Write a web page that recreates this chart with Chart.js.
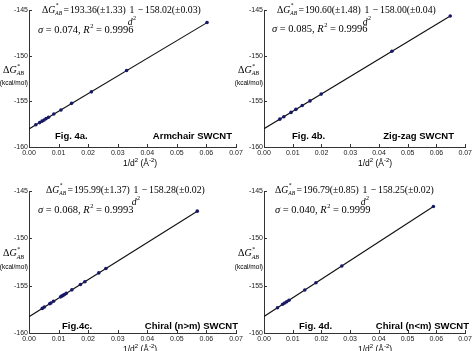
<!DOCTYPE html>
<html>
<head>
<meta charset="utf-8">
<script src="https://cdn.jsdelivr.net/npm/chart.js@4.4.0/dist/chart.umd.min.js"></script>
<style>
body { margin: 0; background: #fff; }
#wrap { position: relative; width: 474px; height: 351px; overflow: hidden; }
#wrap canvas { position: absolute; left: 0; top: 0; }
</style>
</head>
<body>
<div id="wrap">
<canvas id="c1" width="474" height="351"></canvas>
<canvas id="c2" width="474" height="351"></canvas>
<canvas id="c3" width="474" height="351"></canvas>
<canvas id="c4" width="474" height="351"></canvas>
</div>
<script>
// data: x = 1/d^2, y = dG (kcal/mol)
var armX = [0.0023, 0.0036, 0.0044, 0.0051, 0.0058, 0.0066, 0.0084, 0.0108, 0.0144, 0.0211, 0.0330, 0.0602];
var armY = [-157.57, -157.33, -157.17, -157.05, -156.89, -156.75, -156.39, -155.95, -155.22, -153.96, -151.62, -146.37];
var armFitX = [0, 0.0602];
var armFitY = [-158.02, -146.38];

var zigX = [0.0055, 0.0069, 0.0094, 0.0111, 0.0133, 0.0160, 0.0199, 0.0445, 0.0648];
var zigY = [-156.95, -156.68, -156.21, -155.88, -155.46, -154.95, -154.21, -149.52, -145.65];
var zigFitX = [0, 0.0648];
var zigFitY = [-158.00, -145.65];

var chirGtX = [0.0045, 0.0052, 0.0070, 0.0074, 0.0083, 0.0107, 0.0111, 0.0115, 0.0120, 0.0126, 0.0145, 0.0174, 0.0189, 0.0236, 0.0260, 0.0569];
var chirGtY = [-157.40, -157.26, -156.91, -156.83, -156.65, -156.18, -156.10, -156.03, -155.93, -155.81, -155.44, -154.87, -154.58, -153.65, -153.18, -147.13];
var chirGtFitX = [0, 0.0569];
var chirGtFitY = [-158.28, -147.13];

var chirLtX = [0.0047, 0.0065, 0.0072, 0.0079, 0.0087, 0.0142, 0.0181, 0.0271, 0.0590];
var chirLtY = [-157.33, -156.97, -156.83, -156.70, -156.54, -155.46, -154.69, -152.92, -146.64];
var chirLtFitX = [0, 0.0590];
var chirLtFitY = [-158.25, -146.64];

var xTicks = [0, 0.01, 0.02, 0.03, 0.04, 0.05, 0.06, 0.07];
var yTicks = [-160, -155, -150, -145];

var coefText = ['193.36(±1.33)', '190.60(±1.48)', '195.99(±1.37)', '196.79(±0.85)'];
var constText = ['158.02(±0.03)', '158.00(±0.04)', '158.28(±0.02)', '158.25(±0.02)'];
var sigmaText = ['0.074', '0.085', '0.068', '0.040'];
var r2Text = ['0.9996', '0.9996', '0.9993', '0.9999'];
var figLabels = ['Fig. 4a.', 'Fig. 4b.', 'Fig.4c.', 'Fig. 4d.'];
var tubeLabels = ['Armchair SWCNT', 'Zig-zag SWCNT', 'Chiral (n>m) SWCNT', 'Chiral (n<m) SWCNT'];

// where each panel sits on the page
var boxes = [
    { left: 29, top: 10, right: 236, bottom: 147, eqX: 42, eqY: 10, sgX: 38, sgY: 30, figX: 55, tubeR: 232, labY: 136 },
    { left: 264, top: 10, right: 467, bottom: 147, eqX: 277, eqY: 10, sgX: 272, sgY: 29, figX: 292, tubeR: 454, labY: 136 },
    { left: 29, top: 191, right: 236, bottom: 333, eqX: 46, eqY: 190, sgX: 38, sgY: 210, figX: 62, tubeR: 238, labY: 326 },
    { left: 264, top: 191, right: 465, bottom: 333, eqX: 275, eqY: 190, sgX: 275, sgY: 210, figX: 299, tubeR: 469, labY: 326 }
];

var SERIF = '"Liberation Serif", "Times New Roman", serif';
var SANS = '"Liberation Sans", Arial, sans-serif';
Chart.defaults.font.family = SANS;

function txt(ctx, s, x, y, font) {
    ctx.font = font;
    ctx.fillText(s, x, y);
    return x + ctx.measureText(s).width;
}

function drawDeltaG(ctx, x, y, size) {
    var small = Math.round(size * 0.6);
    x = txt(ctx, 'Δ', x, y, size + 'px ' + SERIF);
    x = txt(ctx, 'G', x, y, 'italic ' + size + 'px ' + SERIF);
    var x1 = txt(ctx, '*', x + 0.5, y - size * 0.4, small + 'px ' + SERIF);
    var x2 = txt(ctx, 'AB', x, y + size * 0.35, 'italic ' + small + 'px ' + SERIF);
    return Math.max(x1, x2);
}

//Text, equations and inward ticks
var panelText = {
    id: 'panelText',
    afterDraw: function(chart, args, o) {
        var ctx = chart.ctx;
        var a = chart.chartArea;
        var xs = chart.scales.x;
        var ys = chart.scales.y;
        var b = boxes[o.idx];
        var i = o.idx;
        var F = '10.5px ' + SERIF;
        ctx.save();

        ctx.strokeStyle = '#333';
        ctx.lineWidth = 1;
        ctx.beginPath();
        xTicks.forEach(function(v) {
            var px = Math.round(xs.getPixelForValue(v)) + 0.5;
            ctx.moveTo(px, a.bottom);
            ctx.lineTo(px, a.bottom - 3);
        });
        yTicks.forEach(function(v) {
            var py = Math.round(ys.getPixelForValue(v)) + 0.5;
            ctx.moveTo(a.left, py);
            ctx.lineTo(a.left + 3, py);
        });
        ctx.stroke();

        ctx.fillStyle = '#000';
        ctx.textBaseline = 'middle';
        ctx.textAlign = 'left';

        // equation line, a bit condensed like the original
        ctx.save();
        ctx.translate(b.eqX, b.eqY);
        ctx.scale(0.93, 1);
        var x = drawDeltaG(ctx, 0, 0, 10.5);
        x = txt(ctx, '=', x + 1.5, 0, F);
        x = txt(ctx, coefText[i], x + 1, 0, F);
        x += 2;
        ctx.font = F;
        var w1 = ctx.measureText('1').width;
        ctx.font = 'italic ' + F;
        var wd = ctx.measureText('d').width + 4;
        var fw = Math.max(w1, wd);
        txt(ctx, '1', x + (fw - w1) / 2, 0, F);
        var xd = txt(ctx, 'd', x + (fw - wd) / 2, 12, 'italic ' + F);
        txt(ctx, '2', xd + 0.5, 8, '6.5px ' + SERIF);
        x += fw + 2;
        x = txt(ctx, '−', x, 0, F);
        txt(ctx, constText[i], x + 1.5, 0, F);
        ctx.restore();

        // sigma line
        x = txt(ctx, 'σ', b.sgX, b.sgY, 'italic ' + F);
        x = txt(ctx, ' = ' + sigmaText[i] + ', ', x, b.sgY, F);
        x = txt(ctx, 'R', x, b.sgY, 'italic ' + F);
        x = txt(ctx, '2', x + 0.5, b.sgY - 4, '6.5px ' + SERIF);
        txt(ctx, ' = ' + r2Text[i], x, b.sgY, F);

        // y title
        var h = a.bottom - a.top;
        drawDeltaG(ctx, a.left - 26, a.top + 0.44 * h, 10);
        ctx.textAlign = 'right';
        txt(ctx, '(kcal/mol)', a.left - 1, a.top + 0.535 * h, '6.5px ' + SANS);

        // x title
        ctx.textAlign = 'left';
        var parts = [['1/d', '8.5px ', 0], ['2', '6px ', -3], [' (Å', '8.5px ', 0], ['-2', '6px ', -3], [')', '8.5px ', 0]];
        var tw = 0;
        parts.forEach(function(p) { ctx.font = p[1] + SANS; tw += ctx.measureText(p[0]).width; });
        x = a.left + 111 - tw / 2;
        parts.forEach(function(p) { x = txt(ctx, p[0], x, a.bottom + 16.5 + p[2], p[1] + SANS); });

        // panel labels
        txt(ctx, figLabels[i], b.figX, b.labY, 'bold 9.5px ' + SANS);
        ctx.textAlign = 'right';
        txt(ctx, tubeLabels[i], b.tubeR, b.labY, 'bold 9.5px ' + SANS);

        ctx.restore();
    }
};

function makeChart(id, idx, px, py, fx, fy) {
    var b = boxes[idx];
    var pts = px.map(function(v, k) { return { x: v, y: py[k] }; });
    var fit = fx.map(function(v, k) { return { x: v, y: fy[k] }; });
    new Chart(document.getElementById(id), {
        type: 'scatter',
        data: {
            datasets: [
                { data: pts, pointRadius: 1.8, backgroundColor: '#181868', borderWidth: 0 },
                { data: fit, showLine: true, borderColor: '#111', borderWidth: 1.1, pointRadius: 0 }
            ]
        },
        options: {
            responsive: false,
            animation: false,
            events: [],
            layout: {
                padding: { left: b.left - 24, top: b.top, right: 474 - b.right, bottom: 351 - b.bottom - 12 }
            },
            plugins: {
                legend: { display: false },
                tooltip: { enabled: false },
                panelText: { idx: idx }
            },
            scales: {
                x: {
                    type: 'linear', min: 0, max: 0.07,
                    afterBuildTicks: function(s) { s.ticks = xTicks.map(function(v) { return { value: v }; }); },
                    afterFit: function(s) { s.height = 12; },
                    grid: { display: false, drawTicks: false },
                    border: { display: true, color: '#333', width: 1 },
                    ticks: { font: { size: 7 }, color: '#222', padding: 2, maxRotation: 0, autoSkip: false,
                        callback: function(v) { return v.toFixed(2); } }
                },
                y: {
                    type: 'linear', min: -160, max: -145,
                    afterBuildTicks: function(s) { s.ticks = yTicks.map(function(v) { return { value: v }; }); },
                    afterFit: function(s) { s.width = 24; },
                    grid: { display: false, drawTicks: false },
                    border: { display: true, color: '#333', width: 1 },
                    ticks: { font: { size: 7 }, color: '#222', padding: 1,
                        callback: function(v) { return String(v); } }
                }
            }
        },
        plugins: [panelText]
    });
}

makeChart('c1', 0, armX, armY, armFitX, armFitY);
makeChart('c2', 1, zigX, zigY, zigFitX, zigFitY);
makeChart('c3', 2, chirGtX, chirGtY, chirGtFitX, chirGtFitY);
makeChart('c4', 3, chirLtX, chirLtY, chirLtFitX, chirLtFitY);
</script>
</body>
</html>
